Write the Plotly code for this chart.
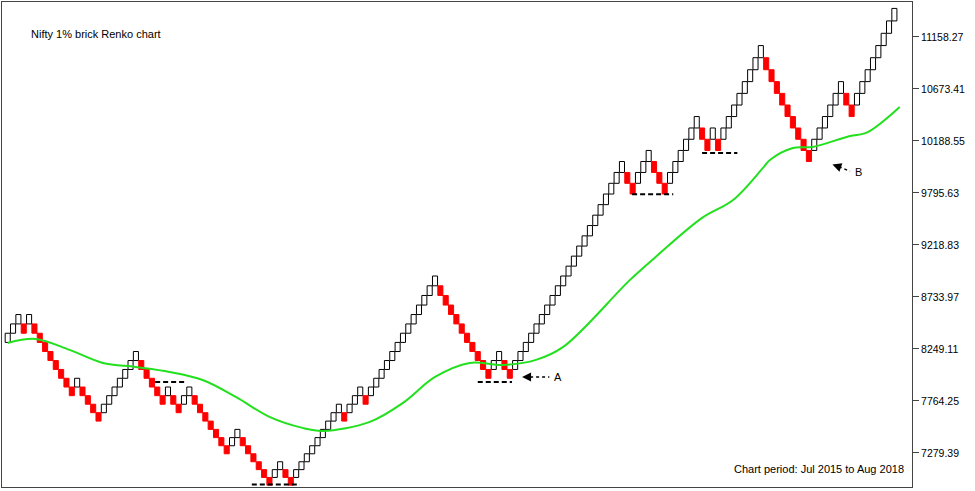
import plotly.graph_objects as go

# Renko run lengths (alternating up/down, starting up)
runs = [3, 1, 1, 8, 1, 4, 7, 5, 1, 2, 2, 7, 2, 6, 2, 2, 9, 1, 3, 1, 13, 10, 2, 2,
        21, 2, 3, 3, 6, 2, 1, 1, 8, 9, 6, 2, 8]
start_price = 8310.0
brick_pct = 0.01032

# moving average readings (brick column, price)
ma_cols = [0, 5.2, 11.6, 17.8, 24, 30.3, 36.5, 42.7, 49, 55.2, 59, 67.8, 74, 80, 86.5,
           92.7, 98.9, 104, 116.5, 121.3, 130, 135.8, 141.4, 142.7, 147, 150.7, 157.7, 160.7, 167]
ma_vals = [8305, 8342, 8240, 8119, 8081, 8035, 7960, 7802, 7616, 7513, 7485, 7569, 7746, 7988,
           8119, 8100, 8147, 8268, 8893, 9107, 9471, 9638, 9937, 10011, 10123, 10133, 10235, 10263, 10506]

tick_labels = ["11158.27", "10673.41", "10188.55", "9795.63", "9218.83",
               "8733.97", "8249.11", "7764.25", "7279.39"]
tick_step = 484.86

dirs = []
for i, n in enumerate(runs):
    dirs += [1 if i % 2 == 0 else -1] * n
lo, hi = -1, 0
bricks = []
for d in dirs:
    if d == 1:
        lo, hi = hi, hi + 1
    else:
        lo, hi = lo - 1, lo
    bricks.append((lo, hi, d))
f = 1 + brick_pct
up_x, up_b, up_h, dn_x, dn_b, dn_h = [], [], [], [], [], []
for i, (l, h, d) in enumerate(bricks):
    pl, ph = start_price * f ** l, start_price * f ** h
    if d == 1:
        up_x.append(i); up_b.append(pl); up_h.append(ph - pl)
    else:
        dn_x.append(i); dn_b.append(pl); dn_h.append(ph - pl)

fig = go.Figure()
fig.add_trace(go.Scatter(x=ma_cols, y=ma_vals, mode="lines", line=dict(color="#22e01e", width=2, shape="spline"),
                         hoverinfo="skip"))
fig.add_trace(go.Bar(x=up_x, y=up_h, base=up_b, width=0.95, marker=dict(color="white", line=dict(color="black", width=1))))
fig.add_trace(go.Bar(x=dn_x, y=dn_h, base=dn_b, width=0.95, marker=dict(color="#ff0000", line=dict(color="#ff0000", width=1))))

tickvals = [11158.27 - i * tick_step for i in range(len(tick_labels))]

dash = dict(color="black", width=2, dash="5px,3px")
for x0, x1, y in [(45.7, 54.7, 6985), (27.6, 33.6, 7941), (88, 94.4, 7941), (116.9, 124.6, 9692), (130, 136.6, 10077)]:
    fig.add_shape(type="line", x0=x0, x1=x1, y0=y, y1=y, line=dash)
fig.add_shape(type="line", x0=97.8, x1=101.4, y0=7988, y1=7988, line=dict(color="black", width=1.5, dash="dot"))
fig.add_shape(type="line", x0=155.6, x1=157.7, y0=9950, y1=9905, line=dict(color="black", width=1.5, dash="dot"))
fig.add_annotation(x=96.3, y=7988, ax=98.2, ay=7988, axref="x", ayref="y", text="", showarrow=True,
                   arrowhead=2, arrowsize=1.2, arrowwidth=1.5, arrowcolor="black")
fig.add_annotation(x=154.4, y=9968, ax=156, ay=9940, axref="x", ayref="y", text="", showarrow=True,
                   arrowhead=2, arrowsize=1.2, arrowwidth=1.5, arrowcolor="black")
fig.add_annotation(x=103, y=7988, text="A", showarrow=False, font=dict(size=11, color="black"))
fig.add_annotation(x=159.3, y=9900, text="B", showarrow=False, font=dict(size=11, color="black"))
fig.add_annotation(x=0.03, y=0.95, xref="paper", yref="paper", xanchor="left", text="Nifty 1% brick Renko chart",
                   showarrow=False, font=dict(size=11, color="black"))
fig.add_annotation(x=0.993, y=0.02, xref="paper", yref="paper", xanchor="right", yanchor="bottom",
                   text="Chart period: Jul 2015 to Aug 2018", showarrow=False, font=dict(size=11, color="black"))

fig.update_layout(width=975, height=491, margin=dict(l=2, r=63, t=2, b=4, autoexpand=False), showlegend=False,
                  plot_bgcolor="white", paper_bgcolor="white", barmode="overlay",
                  font=dict(family="Liberation Sans, Arial", size=10.5, color="black"))
fig.update_xaxes(range=[-1.07, 169.3], showticklabels=False, showgrid=False, zeroline=False, automargin=False,
                 showline=True, linecolor="#444", mirror=True, ticks="")
fig.update_yaxes(range=[6962, 11484], side="right", tickvals=tickvals, ticktext=tick_labels, ticks="outside",
                 automargin=False, ticklen=6, tickcolor="#444", showgrid=False, zeroline=False, showline=True,
                 linecolor="#444", mirror=True)
fig.write_html("out.html", config={"displayModeBar": False},
               post_script="document.body.style.margin='0';document.body.style.overflow='hidden';")
